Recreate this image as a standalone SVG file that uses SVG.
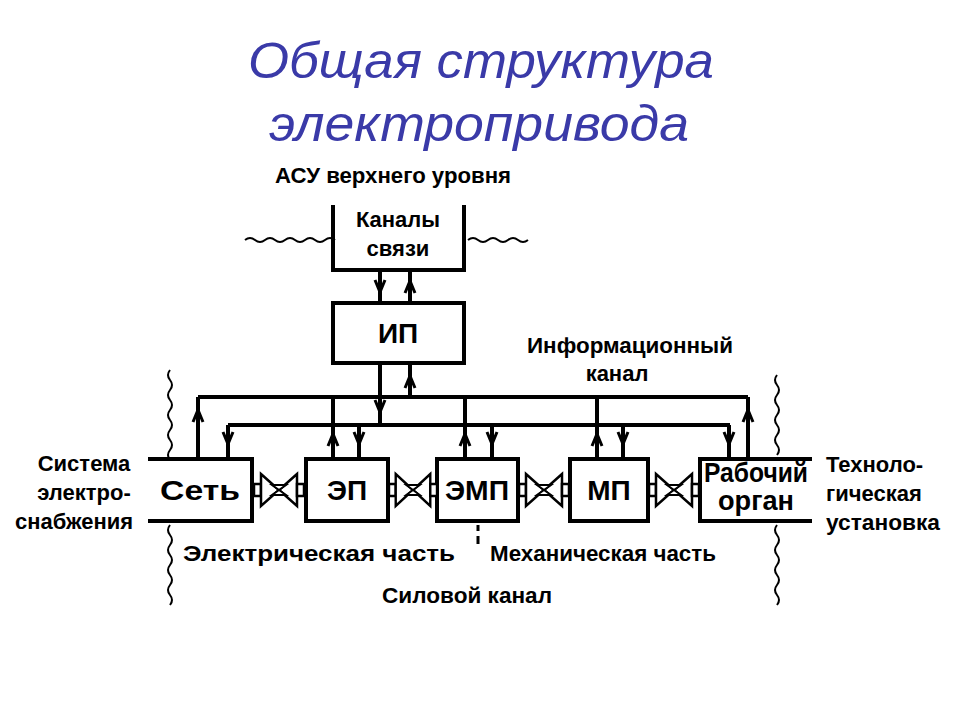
<svg xmlns="http://www.w3.org/2000/svg" width="960" height="720" viewBox="0 0 960 720">
<style>
.l{stroke:#000;stroke-width:4;fill:none}
.w{stroke:#000;stroke-width:2;fill:none}
.t{font-family:"Liberation Sans",Arial,sans-serif;font-weight:bold;font-size:22px;fill:#000}
.b{font-family:"Liberation Sans",Arial,sans-serif;font-weight:bold;font-size:28px;fill:#000}
.h{font-family:"Liberation Sans",Arial,sans-serif;font-style:italic;font-size:50px;fill:#3a3aa8}
</style>
<defs>
<g id="cp"><rect x="0" y="-6" width="7" height="12" fill="#fff" stroke="#000" stroke-width="2.5"/><path d="M7,-16 L25,0 L7,16 Z M43,-16 L25,0 L43,16 Z" fill="#fff" stroke="#000" stroke-width="2.5"/><path d="M18,-5 L32,-5 L18,5 L32,5 Z" fill="#fff" stroke="#000" stroke-width="2"/><rect x="43" y="-6" width="7" height="12" fill="#fff" stroke="#000" stroke-width="2.5"/></g>
</defs>
<rect width="960" height="720" fill="#fff"/>
<text class="h" x="481" y="78" text-anchor="middle" textLength="466" lengthAdjust="spacingAndGlyphs">Общая структура</text>
<text class="h" x="479" y="141" text-anchor="middle" textLength="420" lengthAdjust="spacingAndGlyphs">электропривода</text>
<text class="t" x="393" y="183" text-anchor="middle" textLength="236" lengthAdjust="spacingAndGlyphs">АСУ верхнего уровня</text>
<g id="wavy" class="w">
<path d="M245,240 q5,-4 10,0 t10,0 t10,0 t10,0 t10,0 t10,0 t10,0 t10,0 t10,0"/>
<path d="M468,240 q5,-4 10,0 t10,0 t10,0 t10,0 t10,0 t10,0"/>
<path d="M170,370 q-4,5 0,10 t0,10 t0,10 t0,10 t0,10 t0,10 t0,10 t0,10 t0,10"/>
<path d="M170,525 q-4,5 0,10 t0,10 t0,10 t0,10 t0,10 t0,10 t0,10 t0,10"/>
<path d="M777,375 q-4,5 0,10 t0,10 t0,10 t0,10 t0,10 t0,10 t0,10 t0,10"/>
<path d="M777,525 q-4,5 0,10 t0,10 t0,10 t0,10 t0,10 t0,10 t0,10 t0,10"/>
</g>
<g id="kanaly"><path class="l" d="M333,205 V270 H464 V205"/><text class="t" x="398" y="227" text-anchor="middle">Каналы</text><text class="t" x="398" y="256" text-anchor="middle">связи</text></g>
<g id="ip"><rect class="l" x="333" y="303" width="131" height="60" fill="#fff"/><text class="b" x="398" y="343" text-anchor="middle">ИП</text></g>
<g id="set"><path class="l" d="M148,459 H252 V521 H148"/><text class="b" x="200" y="500" text-anchor="middle" textLength="80" lengthAdjust="spacingAndGlyphs">Сеть</text></g>
<g id="ep"><rect class="l" x="306" y="459" width="82" height="62"/><text class="b" x="347" y="500" text-anchor="middle">ЭП</text></g>
<g id="emp"><rect class="l" x="437" y="459" width="81" height="62"/><text class="b" x="477" y="500" text-anchor="middle" textLength="64" lengthAdjust="spacingAndGlyphs">ЭМП</text></g>
<g id="mp"><rect class="l" x="570" y="459" width="78" height="62"/><text class="b" x="609" y="500" text-anchor="middle">МП</text></g>
<g id="ro"><path class="l" d="M812,459 H700 V521 H812"/><text class="b" x="756" y="482" text-anchor="middle" font-size="22" textLength="104" lengthAdjust="spacingAndGlyphs">Рабочий</text><text class="b" x="756" y="510" text-anchor="middle" font-size="22" textLength="76" lengthAdjust="spacingAndGlyphs">орган</text></g>
<g id="connectors">
<path class="l" d="M198,397 H748 M228,425 H730"/>
<path class="l" d="M380,270 V303 M410,303 V270 M380,363 V425 M410,397 V363"/>
<path class="l" d="M198,459 V397 M228,425 V459 M333,459 V397 M359,425 V459 M465,459 V397 M492,425 V459 M597,459 V397 M623,425 V459 M729,425 V459 M748,459 V397"/>
<g stroke="#000" stroke-width="3" fill="none">
<path d="M375,280 L380,292 L385,280 M405,293 L410,281 L415,293"/>
<path d="M375,400 L380,412 L385,400 M405,388 L410,376 L415,388"/>
<path d="M193,422 L198,410 L203,422 M223,432 L228,444 L233,432"/>
<path d="M328,446 L333,434 L338,446 M354,432 L359,444 L364,432"/>
<path d="M460,446 L465,434 L470,446 M487,432 L492,444 L497,432"/>
<path d="M592,446 L597,434 L602,446 M618,432 L623,444 L628,432"/>
<path d="M724,432 L729,444 L734,432 M743,422 L748,410 L753,422"/>
</g>
<use href="#cp" x="254" y="490"/>
<use href="#cp" transform="translate(389,490) scale(0.96,1)"/>
<use href="#cp" x="519" y="490"/>
<use href="#cp" x="649" y="490"/>
<path d="M478,525 V531 M478,536 V544" stroke="#000" stroke-width="3"/>
</g>
<text class="t" x="630" y="353" text-anchor="middle" textLength="206" lengthAdjust="spacingAndGlyphs">Информационный</text>
<text class="t" x="617" y="381" text-anchor="middle">канал</text>
<text class="t" x="84" y="471" text-anchor="middle">Система</text>
<text class="t" x="84" y="500" text-anchor="middle">электро-</text>
<text class="t" x="74" y="529" text-anchor="middle" textLength="118" lengthAdjust="spacingAndGlyphs">снабжения</text>
<text class="t" x="826" y="472">Техноло-</text>
<text class="t" x="826" y="501">гическая</text>
<text class="t" x="826" y="530" textLength="114" lengthAdjust="spacingAndGlyphs">установка</text>
<text class="t" x="183" y="561" textLength="272" lengthAdjust="spacingAndGlyphs">Электрическая часть</text>
<text class="t" x="490" y="561" textLength="226" lengthAdjust="spacingAndGlyphs">Механическая  часть</text>
<text class="t" x="467" y="603" text-anchor="middle" textLength="170" lengthAdjust="spacingAndGlyphs">Силовой канал</text>
</svg>
